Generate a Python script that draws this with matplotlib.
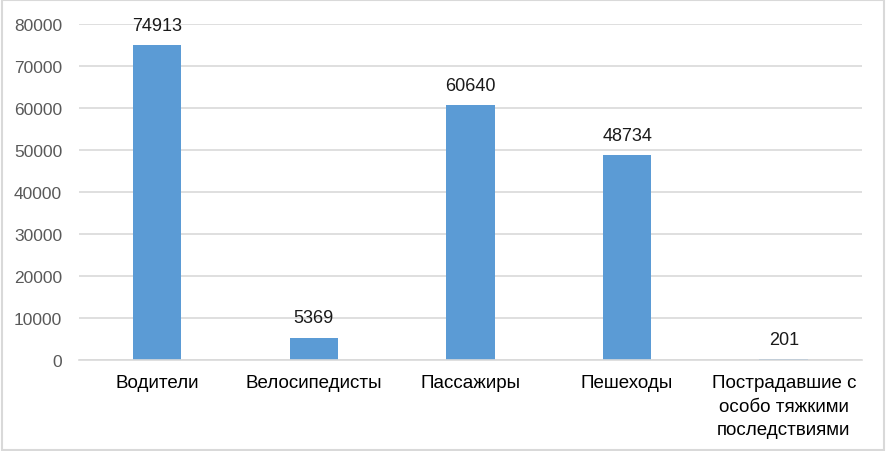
import matplotlib.pyplot as plt
import numpy as np
from matplotlib.patches import Rectangle

CATEGORIES = [
    "Водители",
    "Велосипедисты",
    "Пассажиры",
    "Пешеходы",
    "Пострадавшие с\nособо тяжкими\nпоследствиями",
]
VALUES = [74913, 5369, 60640, 48734, 201]
YTICKS = [0, 10000, 20000, 30000, 40000, 50000, 60000, 70000, 80000]

BAR = "#5b9bd5"
GRID = "#d9d9d9"
TICK = "#595959"

plt.rcParams["font.family"] = ["Liberation Sans", "DejaVu Sans"]

fig = plt.figure(figsize=(8.86, 4.52), dpi=100)
ax = fig.add_axes([0.089, 0.201, 0.884, 0.744])

x = np.arange(len(CATEGORIES))
ax.bar(x, VALUES, width=0.31, color=BAR, zorder=2)
ax.set_xlim(-0.5, len(CATEGORIES) - 0.5)
ax.set_ylim(0, 80000)
ax.set_yticks(YTICKS, [str(t) for t in YTICKS])
ax.set_xticks(x, CATEGORIES)
ax.tick_params(axis="y", length=0, labelsize=12.5, labelcolor=TICK, pad=12)
ax.tick_params(axis="x", length=0, labelsize=13.5, labelcolor="black", pad=10)
for lbl in ax.get_xticklabels():
    lbl.set_linespacing(1.5)
ax.grid(axis="y", color=GRID, linewidth=1.2, zorder=0)
for side in ["top", "right", "left"]:
    ax.spines[side].set_visible(False)
ax.spines["bottom"].set_color(GRID)
ax.spines["bottom"].set_linewidth(1.2)

for xi, val in zip(x, VALUES):
    ax.annotate(f"{val}", (xi, val), xytext=(0, 8), textcoords="offset points",
                ha="center", va="bottom", fontsize=13, color="#1a1a1a")

fig.patches.append(Rectangle((0.002, 0.003), 0.996, 0.994, transform=fig.transFigure,
                             fill=False, edgecolor=GRID, linewidth=1.5))

fig.savefig("out.png", dpi=100)
